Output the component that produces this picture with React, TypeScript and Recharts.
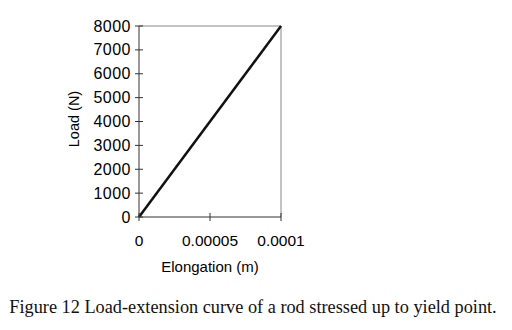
import React from 'react';
import { LineChart, Line, XAxis, YAxis, ReferenceLine, Label } from 'recharts';

const elongation = [0, 0.0001];
const load = [0, 8000];
const xTicks = [0, 0.00005, 0.0001];
const yTicks = [0, 1000, 2000, 3000, 4000, 5000, 6000, 7000, 8000];
const caption = 'Figure 12 Load-extension curve of a rod stressed up to yield point.';

const data = elongation.map((e, i) => ({ e, load: load[i] }));

const FONT = '"Liberation Sans", Arial, sans-serif';

const XTick = (props: any) => {
  const { x, y, payload } = props;
  return (
    <g>
      <line x1={x} x2={x} y1={y - 4} y2={y + 4} stroke="#333" strokeWidth={1} />
      <text x={x} y={y + 29} textAnchor="middle" fontSize={15.5} fontFamily={FONT} fill="#000">
        {String(payload.value)}
      </text>
    </g>
  );
};

const YTick = (props: any) => {
  const { x, y, payload } = props;
  return (
    <g>
      <line x1={x - 4} x2={x + 4} y1={y} y2={y} stroke="#333" strokeWidth={1} />
      <text x={x - 8} y={y + 5.5} textAnchor="end" fontSize={16} fontFamily={FONT} fill="#000" letterSpacing={0.5}>
        {String(payload.value)}
      </text>
    </g>
  );
};

export default function App() {
  return (
    <div style={{ position: 'absolute', left: 0, top: 0, width: 512, height: 330, background: '#fff' }}>
      <LineChart
        width={512}
        height={290}
        data={data}
        margin={{ top: 26, right: 231, left: 69, bottom: 23 }}
      >
        <XAxis
          dataKey="e"
          type="number"
          domain={[0, 0.0001]}
          ticks={xTicks}
          height={50}
          tickLine={false}
          tickSize={0}
          tickMargin={0}
          axisLine={{ stroke: '#333' }}
          tick={<XTick />}
          interval={0}
        >
          <Label
            content={(p: any) => {
              const vb = p.viewBox;
              return (
                <text x={vb.x + vb.width / 2} y={267 + 5} textAnchor="middle" fontSize={15} fontFamily={FONT} fill="#000">
                  Elongation (m)
                </text>
              );
            }}
          />
        </XAxis>
        <YAxis
          type="number"
          domain={[0, 8000]}
          ticks={yTicks}
          width={70}
          tickLine={false}
          tickSize={0}
          tickMargin={0}
          axisLine={{ stroke: '#333' }}
          tick={<YTick />}
          interval={0}
        >
          <Label
            content={() => (
              <text
                x={78.5}
                y={119}
                transform="rotate(-90 78.5 119)"
                textAnchor="middle"
                fontSize={14.5}
                fontFamily={FONT}
                fill="#000"
              >
                Load (N)
              </text>
            )}
          />
        </YAxis>
        <ReferenceLine y={8000} stroke="#888" strokeWidth={1} ifOverflow="extendDomain" />
        <ReferenceLine x={0.0001} stroke="#888" strokeWidth={1} ifOverflow="extendDomain" />
        <Line
          type="linear"
          dataKey="load"
          stroke="#111"
          strokeWidth={2.5}
          dot={false}
          isAnimationActive={false}
        />
      </LineChart>
      <div
        style={{
          position: 'absolute',
          left: 0,
          top: 297,
          width: 506,
          textAlign: 'center',
          fontFamily: '"Liberation Serif", "Times New Roman", serif',
          fontSize: 18.3,
          color: '#111',
          whiteSpace: 'nowrap',
        }}
      >
        {caption}
      </div>
    </div>
  );
}
